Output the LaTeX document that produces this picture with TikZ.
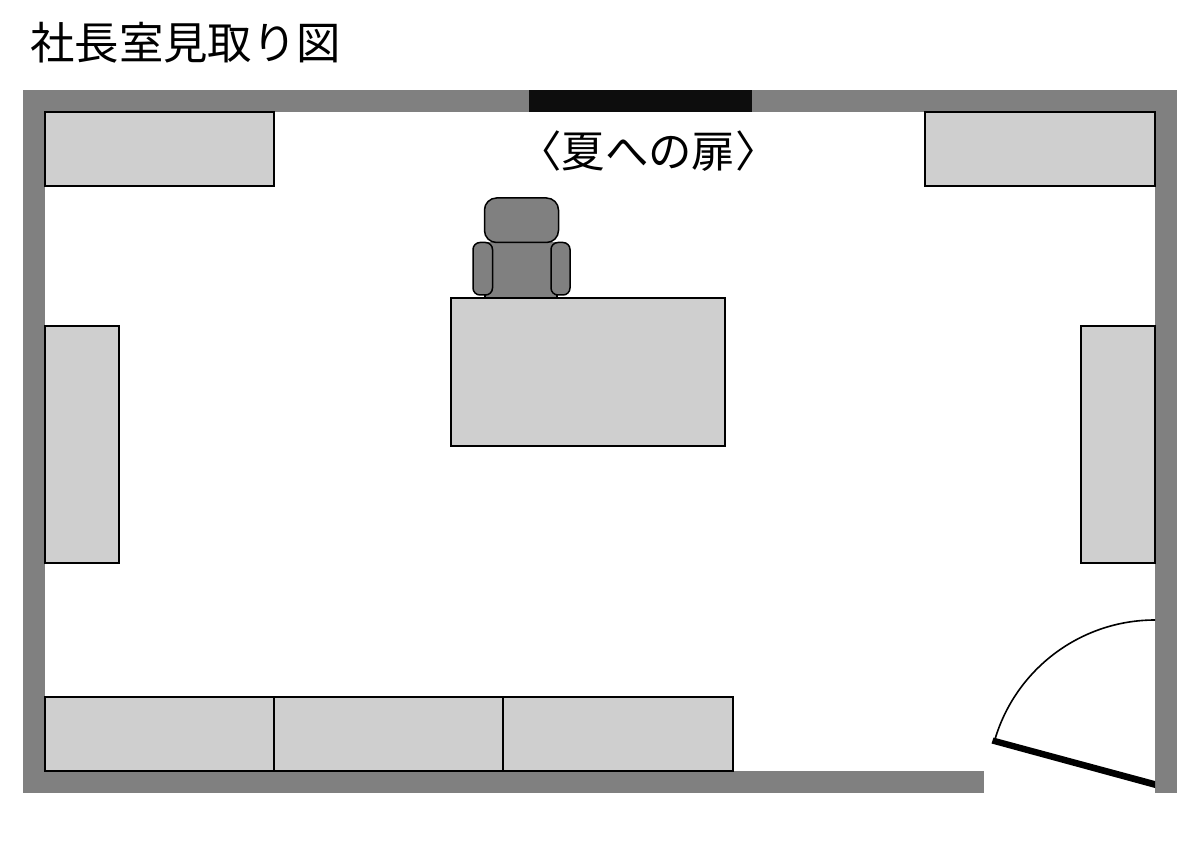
\documentclass[tikz,border=0pt]{standalone}
\usepackage{fontspec}
\setmainfont{Noto Sans CJK JP}
\definecolor{wallc}{gray}{0.5}
\definecolor{furn}{gray}{0.81}
\definecolor{chairc}{gray}{0.5}
\tikzset{
  wall/.style={fill=wallc,draw=none},
  furniture/.style={fill=furn,draw=black,line width=1.5pt},
  chairpart/.style={fill=chairc,draw=black,line width=1.5pt,line join=round},
  title/.style={inner sep=0pt,anchor=west,text=black}
}
\begin{document}
\begin{tikzpicture}[x=1pt,y=-1pt]
\useasboundingbox (0,0) rectangle (1195,845);
\fill[white] (0,0) rectangle (1195,845);
% walls
\fill[wall] (23,90) rectangle (1177,112);
\fill[wall] (23,90) rectangle (45,793);
\fill[wall] (1155,90) rectangle (1177,793);
\fill[wall] (23,771) rectangle (984,793);
% north door
\fill[black!95] (529,90) rectangle (752,112);
% furniture
\draw[furniture] (45,112) rectangle (274,186);
\draw[furniture] (925,112) rectangle (1155,186);
\draw[furniture] (45,326) rectangle (119,563);
\draw[furniture] (1081,326) rectangle (1155,563);
\draw[furniture] (45,697) rectangle (274,771);
\draw[furniture] (274,697) rectangle (503,771);
\draw[furniture] (503,697) rectangle (733,771);
% chair
\fill[chairc] (485,242) rectangle (557,298);
\draw[chairpart] (485,290) -- (485,298);
\draw[chairpart] (557,290) -- (557,298);
\draw[chairpart,rounded corners=12pt] (484.5,198) rectangle (558.5,242.5);
\draw[chairpart,rounded corners=7pt] (473,242.5) rectangle (492.5,295);
\draw[chairpart,rounded corners=7pt] (551,242.5) rectangle (570,295);
% desk
\draw[furniture] (451,298) rectangle (725,446);
% door leaf and swing
\draw[black,line width=1.6pt] (1155,620) arc[start angle=-90,end angle=-163.5,radius=167];
\fill[black] (993.5,737.5) -- (1155,781) -- (1155,788) -- (991.5,743.5) -- cycle;
% texts
\node[title,font=\fontsize{44.4}{44.4}\selectfont] (heading) at (30,42.5) {社長室見取り図};
\node[title,font=\fontsize{43.4}{43.4}\selectfont] (doorname) at (518,151) {〈夏への扉〉};
\end{tikzpicture}
\end{document}
